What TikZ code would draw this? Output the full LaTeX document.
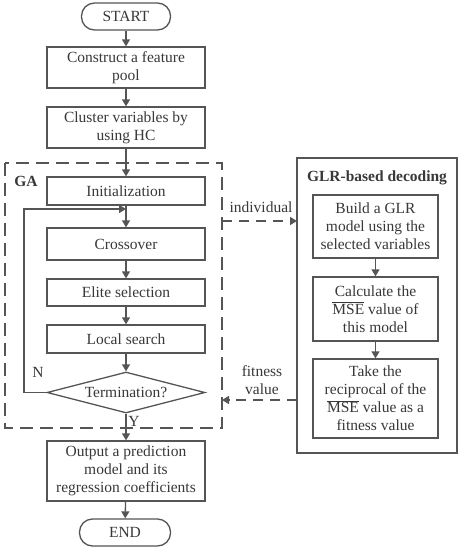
\documentclass[tikz,border=0pt]{standalone}
\usepackage{fontspec}
\setmainfont{Liberation Serif}
\usepackage{tikz}
\usetikzlibrary{arrows.meta}
\usetikzlibrary{shapes.geometric}
\definecolor{linecolor}{HTML}{555555}
\definecolor{textcolor}{HTML}{383838}
\tikzset{
  flowbox/.style={draw=linecolor, line width=1.3pt, text=textcolor, align=center,
    minimum width=158pt, inner sep=0pt},
  endbox/.style={flowbox, rounded corners=13pt, minimum width=89pt, minimum height=27pt},
  glrbox/.style={flowbox, minimum width=125pt},
  decision/.style={draw=linecolor, line width=1.3pt, text=textcolor, diamond, aspect=3.85,
    minimum width=158pt, minimum height=41pt, inner sep=0pt},
  flow/.style={draw=linecolor, line width=1.3pt, -{Triangle[length=7pt,width=8pt]}},
  dashflow/.style={flow, line width=1.5pt, dash pattern=on 10pt off 7pt},
  groupbox/.style={draw=linecolor, line width=1.5pt},
  lab/.style={text=textcolor, inner sep=0pt, align=center}
}
\begin{document}
\begin{tikzpicture}[x=1pt, y=-1pt, font=\fontsize{15.5}{18}\selectfont]
   \useasboundingbox (0,0) rectangle (460,550);
%% main flow
   \node (start) [endbox] at (126,16.5) {START};
   \node (pool) [flowbox, minimum height=41pt] at (126,67.5) {Construct a feature\\pool};
   \node (hc) [flowbox, minimum height=41pt] at (126,127.5) {Cluster variables by\\using HC};
   \node (init) [flowbox, minimum height=28pt] at (126,191) {Initialization};
   \node (cross) [flowbox, minimum height=32pt] at (126,244) {Crossover};
   \node (elite) [flowbox, minimum height=27pt] at (126,292.5) {Elite selection};
   \node (local) [flowbox, minimum height=28pt] at (126,339) {Local search};
   \node (term) [decision] at (126,392.5) {Termination?};
   \node (out) [flowbox, minimum height=60pt] at (126,471) {Output a prediction\\model and its\\regression coefficients};
   \node (end) [endbox, minimum width=91pt] at (125,532.5) {END};
%% GA group
   \draw [groupbox, dash pattern=on 13pt off 7pt] (5,163) rectangle (222,428);
   \node [lab, font=\fontsize{15.5}{18}\selectfont\bfseries] at (26,181) {GA};
%% GLR group
   \draw [groupbox, line width=1.3pt] (297,158) rectangle (457,453);
   \node [lab, font=\fontsize{15.5}{18}\selectfont\bfseries] at (377,178) {GLR-based decoding};
   \node (build) [glrbox, minimum height=63pt] at (375.5,226.5) {Build a GLR\\model using the\\selected variables};
   \node (mse) [glrbox, minimum height=64pt] at (375.5,309) {Calculate the\\$\overline{\mbox{MSE}}$ value of\\this model};
   \node (recip) [glrbox, minimum height=79pt] at (375.5,398.5) {Take the\\reciprocal of the\\$\overline{\mbox{MSE}}$ value as a\\fitness value};
%% connectors
   \draw [flow] (start) -- (pool);
   \draw [flow] (pool) -- (hc);
   \draw [flow] (hc) -- (init);
   \draw [flow] (init) -- (cross);
   \draw [flow] (cross) -- (elite);
   \draw [flow] (elite) -- (local);
   \draw [flow] (local) -- (term);
   \draw [flow] (term) -- (out);
   \draw [flow] (out) -- (end);
   \coordinate (loop) at (126,209);
   \draw [flow] (term.west) -- (24,392.5) -- (24,209) -- (loop);
   \node [lab] at (38,372) {N};
   \node [lab] at (134,421) {Y};
   \draw [flow] (build) -- (mse);
   \draw [flow] (mse) -- (recip);
%% exchange between the groups
   \coordinate (indout) at (222,221);
   \coordinate (indin) at (297,221);
   \coordinate (fitout) at (297,400);
   \coordinate (fitin) at (222,400);
   \draw [dashflow] (indout) -- (indin);
   \draw [dashflow] (fitout) -- (fitin);
   \node [lab] at (261,207) {individual};
   \node [lab] at (262,380) {fitness\\value};
\end{tikzpicture}
\end{document}
